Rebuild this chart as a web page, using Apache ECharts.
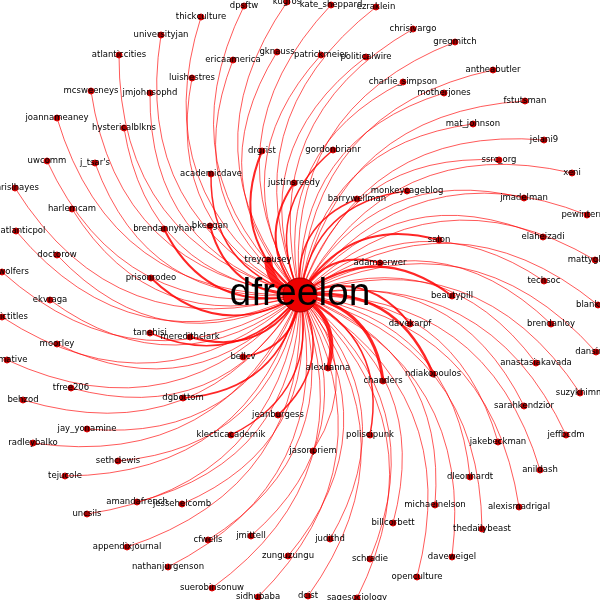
<!DOCTYPE html>
<html><head><meta charset="utf-8">
<script src="https://cdn.jsdelivr.net/npm/echarts@6/dist/echarts.min.js"></script>
<style>html,body{margin:0;padding:0;background:#fff}#c{width:600px;height:600px}</style>
</head><body><div id="c"></div>
<script>
const hubName = "dfreelon";
const hubX = 300, hubY = 295;
const names = ["thickculture","universityjan","atlanticcities","luishestres","mcsweeneys","jmjohnsophd","joannameaney","hystericalblkns","dpsftw","kugros","kate_sheppard","ezraklein","ericaamerica","gknauss","patrickmeier","politicalwire","chrisjvargo","gregmitch","charlie_simpson","antheabutler","motherjones","fstutsman","mat_johnson","jelani9","uwcomm","j_tsar's","chrislhayes","harlemcam","theatlanticpol","doctorow","justinwolfers","ekvraga","brendannyhan","prisonrodeo","bkeegan","academicdave","drgrist","gordonbrianr","justinsreedy","barrywellman","monkeycageblog","treycausey","adamserwer","ssrc_org","xeni","jmadelman","pewinternet","salon","elaheizadi","mattyglesias","techsoc","beautypill","blankslate","brendanloy","davekarpf","dansinker","anastasiakavada","ndiakopoulos","suzykhimm","sarahkendzior","jeffbcdm","jakebeckman","chanders","alexhanna","bellcv","meredithclark","tanehisi","moorley","chronictitles","formative","tfree206","behzod","dgbottom","jay_yonamine","radleybalko","jeanburgess","klecticacademik","poliscipunk","jasonpriem","sethclewis","tejucole","amandafrench","jessehelcomb","uncsils","appendixjournal","nathanjurgenson","suerobinsonuw","cfwells","jmittell","zunguzungu","judithd","sidhubaba","dcist","sagesociology","schradie","billcorbett","openculture","michaelnelson","dleonhardt","anildash","alexismadrigal","thedailybeast","daveweigel"];
const xs = [201,161,119,192,91,150,57,124,244,287,331,376,233,277,321,366,413,455,403,493,444,525,473,544,47,95,15,72,16,57,2,50,164,151,210,211,262,333,294,357,407,268,380,499,572,524,587,439,543,595,544,452,598,551,410,596,536,433,580,524,566,498,383,328,243,190,150,57,2,7,71,23,183,87,33,278,231,370,313,118,65,137,182,87,127,168,212,208,251,288,330,258,308,357,370,393,417,435,470,540,519,482,452];
const ys = [17,35,55,78,91,93,118,128,6,2,5,7,60,52,55,57,29,42,82,70,93,101,124,140,161,163,188,209,231,255,272,300,229,278,226,174,151,150,183,199,191,260,263,160,173,198,215,240,237,260,281,296,305,324,324,352,363,374,393,406,435,442,381,368,357,337,333,344,317,360,388,400,398,429,443,415,435,435,451,461,476,502,504,514,547,567,588,540,536,556,539,597,596,598,559,523,577,505,477,470,507,529,557];
const weights = [1,1,1,1,1,1,1,1,1,1,1,1,1,1,1,1,1,1,1,1,1,1,1,1,1,1,1,1,1,1,1,1,2,2,2,1.5,2,1.5,2,1.5,1.5,8,2,1,1,1,1,2,1,1,1,2,1,1,2,1,1,2.5,1,1,1,1,3,4,2,2,1.5,1,1,1,1,1,1.5,1,1,1.5,1.5,1.5,1,1,1,1,1,1,1,1,1,1,1,1,1,1,1,1,1,1,1,1,1,1,1,1,1];

const nodes = [{
  name: hubName, value: [hubX, hubY], symbolSize: 34,
  itemStyle: {color: '#ee0000', borderColor: '#aa0000', borderWidth: 1},
  label: {fontSize: 39, fontFamily: 'Liberation Sans', color: '#000', offset: [0, -1]},
  z: 10
}];
names.forEach((n, i) => nodes.push({name: n, value: [xs[i], ys[i]]}));
const links = names.map((n, i) => ({
  source: hubName, target: n,
  lineStyle: {width: weights[i], opacity: weights[i] > 1 ? 0.85 : 0.65}
}));

const chart = echarts.init(document.getElementById('c'));
chart.setOption({
  animation: false,
  backgroundColor: '#ffffff',
  grid: {left: 0, right: 0, top: 0, bottom: 0},
  xAxis: {type: 'value', min: 0, max: 600, show: false},
  yAxis: {type: 'value', min: 0, max: 600, inverse: true, show: false},
  series: [{
    type: 'graph',
    coordinateSystem: 'cartesian2d',
    layout: 'none',
    symbol: 'circle',
    symbolSize: 6,
    itemStyle: {color: '#a00000', borderColor: '#e00000', borderWidth: 1},
    label: {show: true, position: 'inside', color: '#000', fontSize: 8.5, fontFamily: 'DejaVu Sans'},
    lineStyle: {color: '#ff0000', curveness: 0.38},
    emphasis: {disabled: true},
    data: nodes,
    links: links
  }]
});
</script></body></html>
